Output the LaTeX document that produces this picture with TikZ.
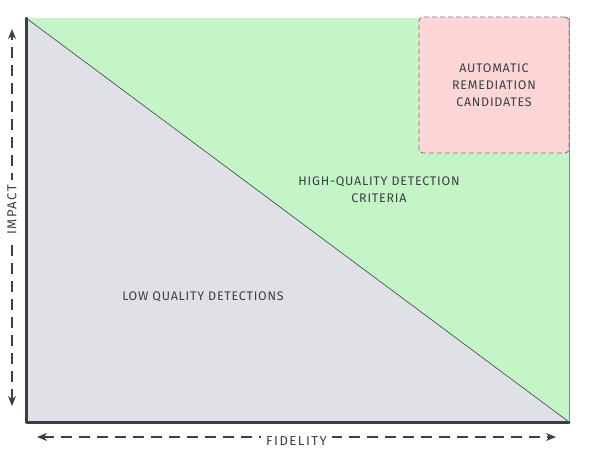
\documentclass[tikz,border=0pt]{standalone}
\usepackage{fontspec}
\setmainfont{Fira Sans}
\usetikzlibrary{arrows.meta}

\definecolor{inkgray}{HTML}{3B4046}
\definecolor{lowfill}{HTML}{DFE1E6}
\definecolor{highfill}{HTML}{C3F5C6}
\definecolor{autofill}{HTML}{FFD6D6}

\tikzstyle{zone} = [text=inkgray, font=\fontsize{12.5}{17}\selectfont\addfontfeatures{LetterSpace=6}, align=center]
\tikzstyle{axis} = [draw=inkgray, line width=3pt, line join=round, line cap=round]
\tikzstyle{axisarrow} = [draw=inkgray, line width=1.2pt, dash pattern=on 11pt off 7pt, {Stealth[length=10pt,width=8pt]}-{Stealth[length=10pt,width=8pt]}]
\tikzstyle{axislabel} = [text=inkgray, fill=white, inner sep=5pt, font=\fontsize{13}{15}\selectfont\addfontfeatures{LetterSpace=12}]

\begin{document}
\begin{tikzpicture}[x=1pt, y=-1pt]
\useasboundingbox (0,0) rectangle (591,456);
%corners
\coordinate (tl) at (26,18);
\coordinate (tr) at (569,18);
\coordinate (bl) at (26,422);
\coordinate (br) at (569,422);
%begin zones
\fill[lowfill] (tl) -- (bl) -- (br) -- cycle;
\fill[highfill] (tl) -- (tr) -- (br) -- cycle;
\draw[inkgray!60, line width=0.5pt] (tr) -- (br);
\draw[inkgray, line width=0.6pt] (tl) -- (br);
%end zones
%begin automatic box
\node[zone, draw=inkgray!70, line width=0.9pt, dash pattern=on 5pt off 3pt, fill=autofill, rounded corners=4pt,
      minimum width=150pt, minimum height=136pt] (auto) at (494,85)
      {AUTOMATIC\\REMEDIATION\\CANDIDATES};
%end automatic box
\node[zone] (high) at (379,190) {HIGH-QUALITY DETECTION\\CRITERIA};
\node[zone] (low) at (203,297) {LOW QUALITY DETECTIONS};
%axes
\draw[axis] (tl) -- (bl) -- (br);
%begin impact
\coordinate (ytop) at (12,29);
\coordinate (ybot) at (12,406);
\draw[axisarrow] (ybot) -- node[axislabel, rotate=90, pos=0.52] (impact) {IMPACT} (ytop);
%end impact
%begin fidelity
\coordinate (xleft) at (37,437);
\coordinate (xright) at (556,437);
\draw[axisarrow] (xleft) -- node[axislabel, yshift=-4pt] (fidelity) {FIDELITY} (xright);
%end fidelity
\end{tikzpicture}
\end{document}
